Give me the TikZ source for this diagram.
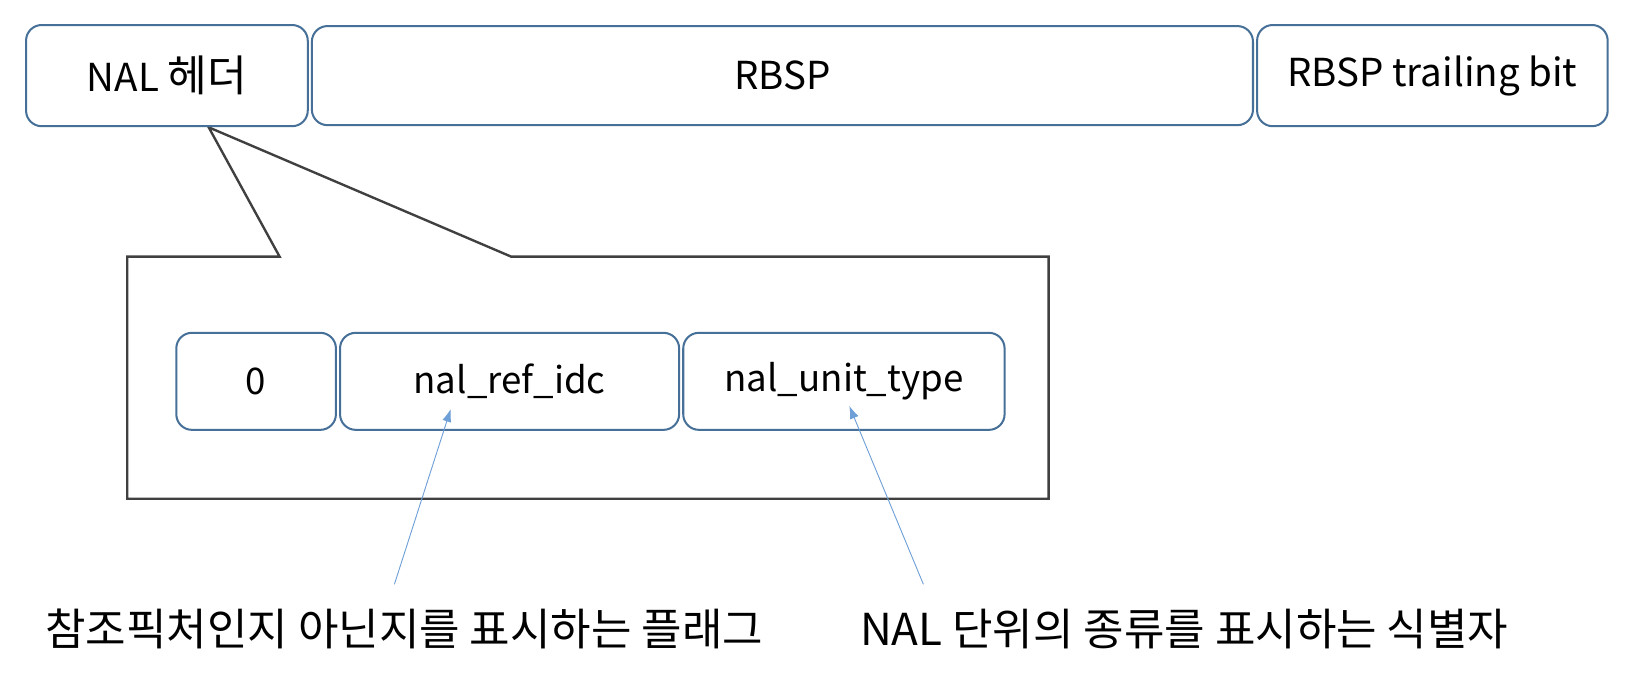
\documentclass[tikz,border=0pt]{standalone}
\usepackage{fontspec}
\setmainfont{Noto Sans CJK KR}
\usepackage{xcolor}
\usetikzlibrary{arrows.meta,positioning,calc}
\definecolor{fieldline}{RGB}{70,112,152}
\definecolor{pointline}{RGB}{110,160,215}
\definecolor{calloutline}{RGB}{64,64,64}
\newcommand{\hangul}[1]{{\fontsize{23.5}{27}\selectfont #1}}
\tikzset{
  field/.style={draw=fieldline, line width=1.1pt, rounded corners=0.3cm, inner sep=0pt, fill=white},
  toptext/.style={font=\fontsize{21}{25}\selectfont},
  bigtext/.style={font=\fontsize{20}{24}\selectfont},
  smalltext/.style={font=\fontsize{24}{28}\selectfont},
  pointer/.style={draw=pointline, line width=0.5pt, -{Latex[length=7pt,width=5pt]}}
}
\begin{document}
\begin{tikzpicture}
\useasboundingbox (0,0) rectangle (31.36,-13.04);
% callout
\coordinate (apex) at (4.0,-2.44);
\draw[calloutline, line width=1.3pt] (2.44,-4.92) -- (5.36,-4.92) -- (apex) -- (9.8,-4.92)
  -- (20.1,-4.92) -- (20.1,-9.56) -- (2.44,-9.56) -- cycle;
% top row
\node[field, toptext, minimum width=5.4cm, minimum height=1.94cm, anchor=north west] (hdr) at (0.48,-0.46) {NAL \hangul{헤더}};%
\node[field, toptext, minimum width=18.04cm, minimum height=1.9cm, right=0.04cm of hdr] (rbsp) {RBSP};%
\node[field, toptext, minimum width=6.72cm, minimum height=1.94cm, right=0.04cm of rbsp] (trail) {RBSP trailing bit};%
% header fields
\node[field, bigtext, minimum width=3.06cm, minimum height=1.86cm, anchor=north west] (zero) at (3.36,-6.36) {0};%
\node[field, bigtext, minimum width=6.5cm, minimum height=1.86cm, right=0.04cm of zero] (refidc) {nal\_ref\_idc};%
\node[field, bigtext, minimum width=6.16cm, minimum height=1.86cm, right=0.04cm of refidc] (unittype) {nal\_unit\_type};%
% labels
\node[smalltext] (flaglbl) at (7.75,-12.06) {참조픽처인지 아닌지를 표시하는 플래그};%
\node[smalltext] (typelbl) at (22.7,-12.06) {NAL 단위의 종류를 표시하는 식별자};%
\coordinate (flagfoot) at (7.56,-11.2);
\coordinate (typefoot) at (17.7,-11.2);
\coordinate (flagtip) at (8.64,-7.84);
\coordinate (typetip) at (16.28,-7.78);
\draw[pointer] (flagfoot) -- (flagtip);
\draw[pointer] (typefoot) -- (typetip);
\end{tikzpicture}
\end{document}
